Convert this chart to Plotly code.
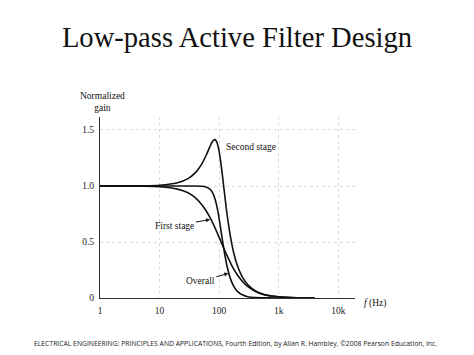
import plotly.graph_objects as go

# Frequencies (Hz) read along the log axis
freq = [1, 2, 5, 10, 20, 30, 40, 50, 60, 70, 75, 80, 85, 90, 95, 100, 105, 110,
        120, 130, 140, 160, 180, 200, 250, 300, 400, 500, 700, 1000, 2000, 4000]

first_stage = [1.000, 0.9997, 0.998, 0.993, 0.972, 0.939, 0.894, 0.840, 0.781, 0.719,
               0.688, 0.657, 0.627, 0.597, 0.569, 0.541, 0.515, 0.489, 0.442, 0.400,
               0.362, 0.299, 0.249, 0.210, 0.143, 0.103, 0.060, 0.039, 0.020, 0.010,
               0.0025, 0.0006]

second_stage = [1.000, 1.000, 1.002, 1.007, 1.029, 1.066, 1.119, 1.188, 1.270, 1.352,
                1.386, 1.408, 1.414, 1.399, 1.363, 1.307, 1.234, 1.153, 0.982, 0.826,
                0.695, 0.504, 0.380, 0.297, 0.179, 0.120, 0.065, 0.041, 0.021, 0.010,
                0.0025, 0.0006]

overall = [1.000, 1.000, 1.000, 1.000, 1.000, 1.000, 1.000, 0.998, 0.992, 0.972,
           0.953, 0.925, 0.887, 0.836, 0.775, 0.707, 0.635, 0.564, 0.434, 0.331,
           0.252, 0.151, 0.095, 0.062, 0.026, 0.012, 0.004, 0.002, 0.001, 0.000,
           0.000, 0.000]

x_tickvals = [1, 10, 100, 1000, 10000]
x_ticktext = ["1", "10", "100", "1k", "10k"]
y_tickvals = [0, 0.5, 1.0, 1.5]
y_ticktext = ["0", "0.5", "1.0", "1.5"]

SERIF = "Liberation Serif, Times New Roman, serif"
line_style = dict(color="#111111", width=1.6, shape="spline", smoothing=0.8)

fig = go.Figure()
for name, vals in [("First stage", first_stage), ("Second stage", second_stage),
                   ("Overall", overall)]:
    fig.add_trace(go.Scatter(x=freq, y=vals, mode="lines", name=name,
                             line=line_style, showlegend=False, hoverinfo="skip"))

fig.update_layout(
    width=474, height=355,
    margin=dict(l=100, r=119, t=117, b=57),
    paper_bgcolor="white", plot_bgcolor="white",
    title=dict(text="Low-pass Active Filter Design", x=0.5, xanchor="center",
               y=1 - 37 / 355, yanchor="middle", yref="container",
               font=dict(family=SERIF, size=28.6, color="#111111")),
    font=dict(family=SERIF, size=9.5, color="#222222"),
)
fig.update_xaxes(type="log", range=[0, 4.28], tickvals=x_tickvals, ticktext=x_ticktext,
                 showgrid=True, gridcolor="#dadada", griddash="dot", gridwidth=1,
                 showline=True, linecolor="#333333", linewidth=1, zeroline=False,
                 ticks="", ticklabelstandoff=4)
fig.update_yaxes(range=[0, 1.616], tickvals=y_tickvals, ticktext=y_ticktext,
                 showgrid=True, gridcolor="#dadada", griddash="dot", gridwidth=1,
                 showline=True, linecolor="#333333", linewidth=1, zeroline=False,
                 ticks="", ticklabelstandoff=3)

ann_font = dict(family=SERIF, size=9.5, color="#111111")
fig.add_annotation(x=0.008, y=1.083, xref="paper", yref="paper", showarrow=False,
                   text="Normalized<br>gain", font=ann_font, xanchor="center",
                   yanchor="middle")
fig.add_annotation(x=1.027, y=-0.033, xref="paper", yref="paper", showarrow=False,
                   text="<i>f</i> (Hz)", font=ann_font, xanchor="left", yanchor="middle")
fig.add_annotation(x=2.08, y=1.35, xref="x", yref="y", showarrow=False,
                   text="Second stage", font=ann_font, xanchor="left", yanchor="middle")
fig.add_annotation(x=1.846, y=0.70, xref="x", yref="y", text="First stage",
                   font=ann_font, showarrow=True, ax=-35, ay=6, arrowhead=2,
                   arrowsize=0.8, arrowwidth=1, arrowcolor="#111111")
fig.add_annotation(x=2.153, y=0.22, xref="x", yref="y", text="Overall",
                   font=ann_font, showarrow=True, ax=-28, ay=8, arrowhead=2,
                   arrowsize=0.8, arrowwidth=1, arrowcolor="#111111")
fig.add_annotation(x=0.531, y=-0.254, xref="paper", yref="paper", showarrow=False,
                   text="ELECTRICAL ENGINEERING: PRINCIPLES AND APPLICATIONS, Fourth Edition, "
                        "by Allan R. Hambley, \u00a92008 Pearson Education, Inc.",
                   font=dict(family="Open Sans, DejaVu Sans, sans-serif", size=6.8,
                             color="#222222"),
                   xanchor="center", yanchor="middle")

fig.write_html("out.html", config={"displayModeBar": False},
               post_script="document.body.style.margin='0';document.body.style.overflow='hidden';")
